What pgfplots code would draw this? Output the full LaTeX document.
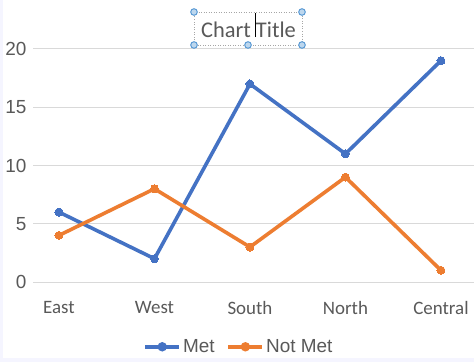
\documentclass[border=0pt]{standalone}
\usepackage{pgfplots}
\pgfplotsset{compat=1.18}
\usepackage{fontspec}
\setmainfont{Liberation Sans}
\newfontfamily\carlito{Carlito}
\definecolor{metblue}{HTML}{4472C4}
\definecolor{notorange}{HTML}{ED7D31}
\definecolor{txtgray}{HTML}{595959}
\definecolor{gridgray}{HTML}{D9D9D9}
\definecolor{handle}{HTML}{5B9BD5}
\definecolor{handlefill}{HTML}{BDD7EE}
\begin{document}
\begin{tikzpicture}[x=1bp,y=1bp]
\path[use as bounding box] (0,0) rectangle (474,361);
\fill[white] (0,0) rectangle (474,361);
\draw[color=blue!4, line width=3bp] (1,0) -- (1,361);
\draw[color=blue!4, line width=4bp] (0,1) -- (474,1);
\begin{axis}[
  at={(33bp,79bp)}, anchor=south west,
  width=441bp, height=233bp, scale only axis,
  xmin=-0.272, xmax=4.346,
  ymin=0, ymax=20,
  ytick={0,5,10,15,20},
  xtick={0,1,2,3,4},
  xticklabels={East,West,South,North,Central},
  axis line style={draw=none},
  ymajorgrids, grid style={gridgray, line width=1bp},
  major tick length=0pt,
  tick style={draw=none},
  yticklabel style={font=\fontsize{19}{19}\selectfont, text=txtgray, xshift=-3bp},
  xticklabel style={font=\carlito\fontsize{19}{19}\selectfont, text=txtgray, yshift=-16bp},
  /pgf/number format/assume math mode=true,
  clip=false,
  legend columns=2,
  legend style={draw=none, fill=none, at={(0.467,-0.278)}, anchor=center,
    font=\fontsize{19}{19}\selectfont, text=txtgray,
    /tikz/every even column/.append style={column sep=10bp},
    inner sep=0pt},
  legend image code/.code={
    \draw[#1, mark=none] (0bp,0bp) -- (34bp,0bp);
    \fill[#1] (17bp,0bp) circle (2.8bp);
  },
  legend cell align=left,
]
\addplot[metblue, line width=3.6bp, mark=*, mark size=4bp, mark options={fill=metblue, draw=metblue, line width=0pt}]
  coordinates {(0,6) (1,2) (2,17) (3,11) (4,19)};
\addlegendentry{Met}
\addplot[notorange, line width=3.6bp, mark=*, mark size=4bp, mark options={fill=notorange, draw=notorange, line width=0pt}]
  coordinates {(0,4) (1,8) (2,3) (3,9) (4,1)};
\addlegendentry{Not Met}
\end{axis}
% title with selection box
\node[font=\carlito\fontsize{22.5}{22.5}\selectfont, text=txtgray] at (248.5,331) {Chart Title};
\draw[gray!70, dash pattern=on 1bp off 1.5bp, line width=0.8bp] (194,316) rectangle (302,349);
\foreach \p in {(194,316),(302,316),(194,349),(302,349),(248,316)}
  \filldraw[fill=handlefill, draw=handle, line width=1bp] \p circle (3.3);
\draw[black, line width=1.8bp] (255.5,324) -- (255.5,348);
\end{tikzpicture}
\end{document}
